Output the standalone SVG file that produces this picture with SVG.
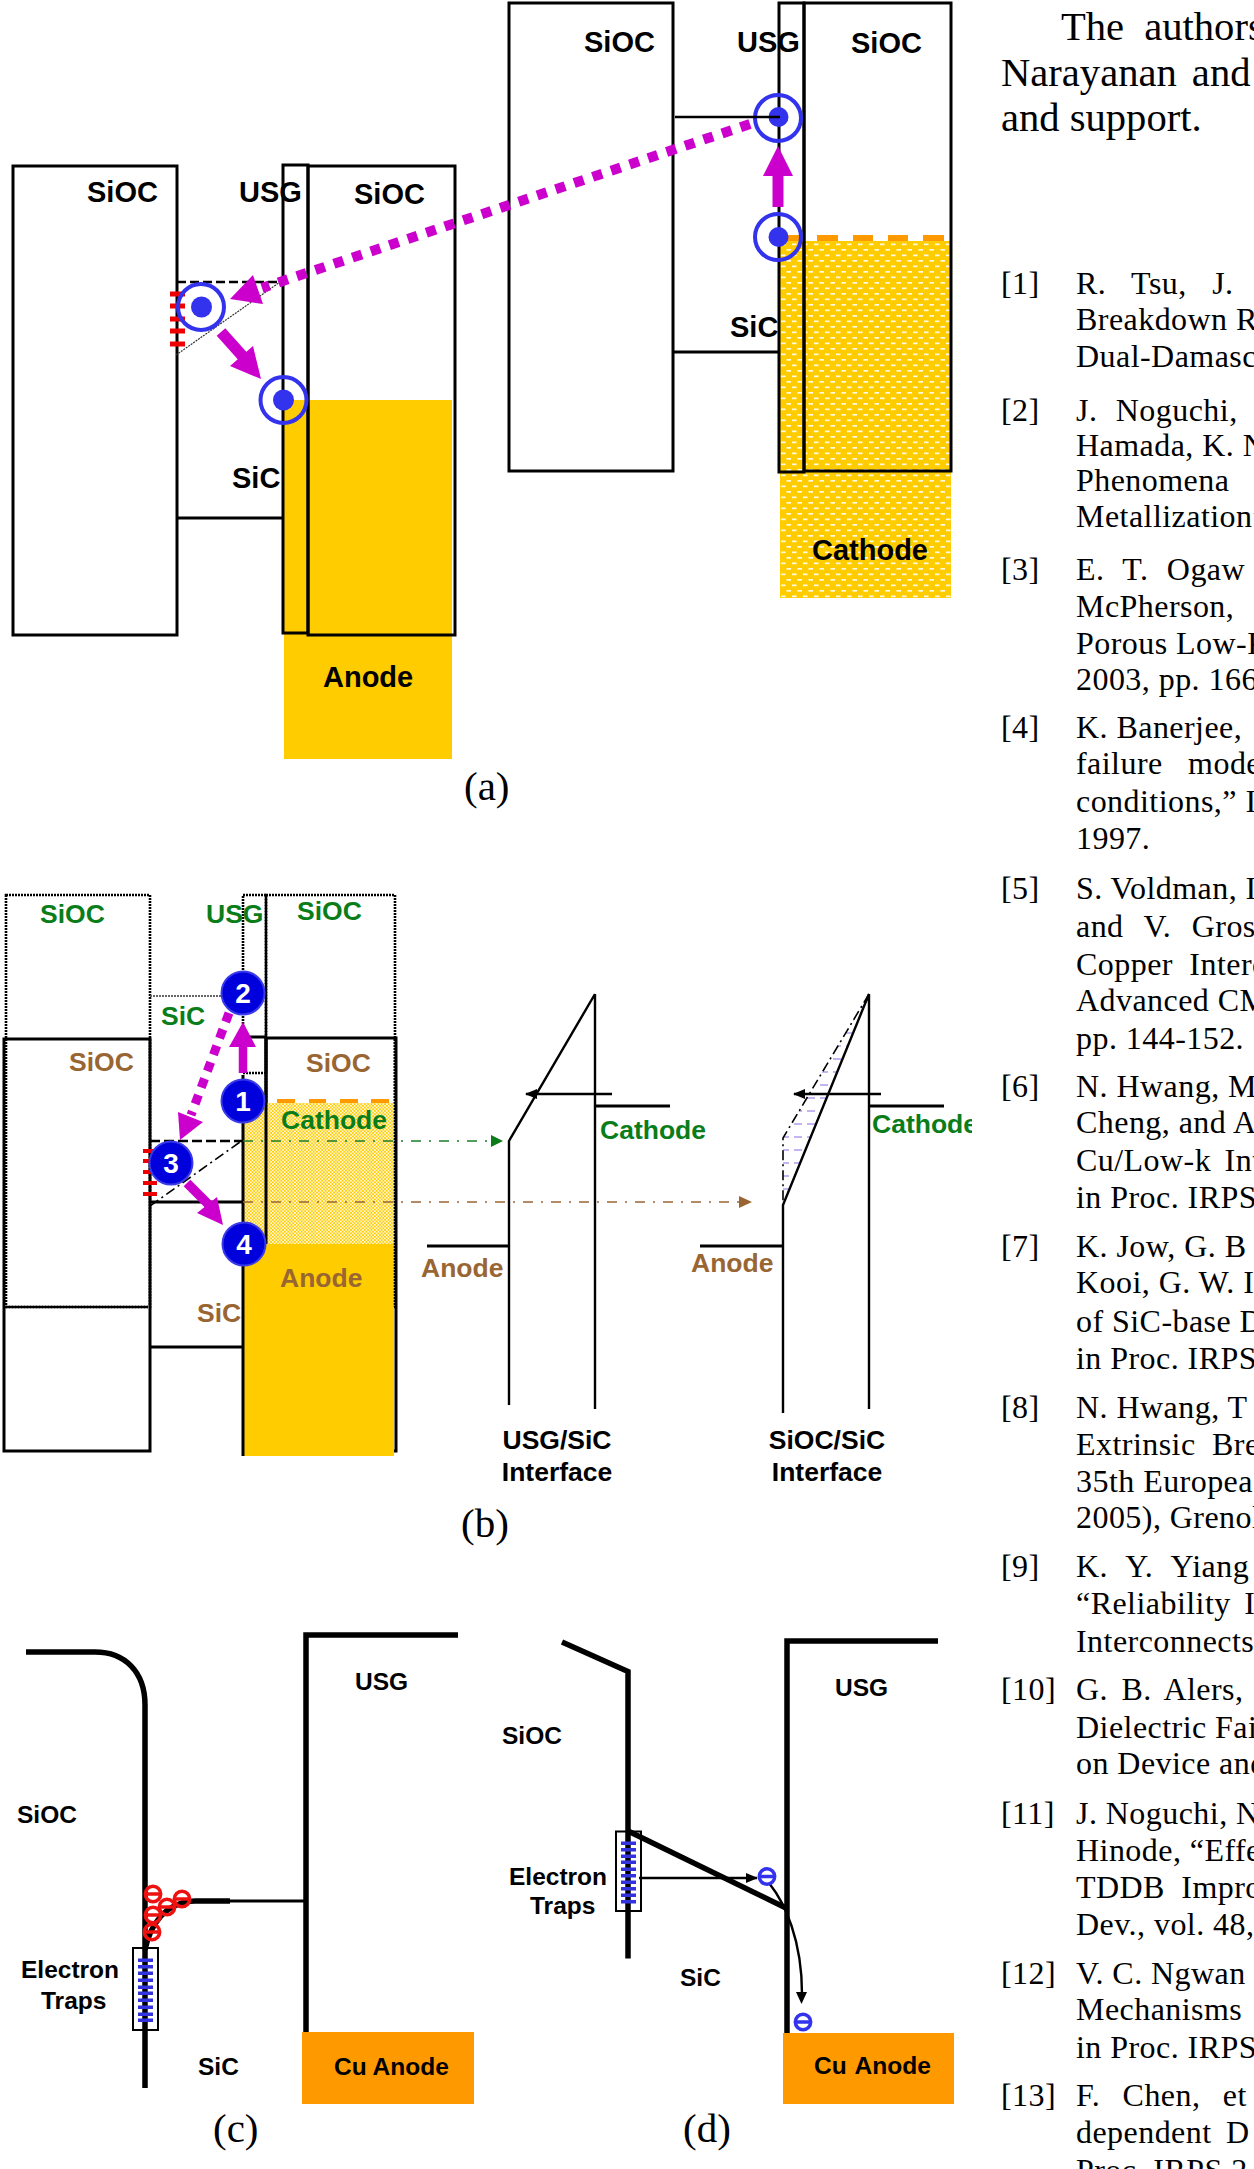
<svg xmlns="http://www.w3.org/2000/svg" width="1254" height="2169" viewBox="0 0 1254 2169">
<style>
text{font-family:"Liberation Sans",Arial,sans-serif;font-weight:bold;fill:#000}
.s29{font-size:29px}.s26{font-size:26.5px}.s24{font-size:24.5px}
.g{fill:#0a7d1a}.br{fill:#996633}.wh{fill:#fff;text-anchor:middle;font-size:28px}
.ser{font-family:"Liberation Serif","Times New Roman",serif;font-weight:normal}
.cap{font-size:41px;text-anchor:start}.ref{font-size:32px;letter-spacing:.45px}.intro{font-size:40.6px}
.box{fill:none;stroke:#000;stroke-width:3}
.ln2{fill:none;stroke:#000;stroke-width:2.4}
.ln3{fill:none;stroke:#000;stroke-width:3}
.thick{fill:none;stroke:#000;stroke-width:5.5}
.dot{fill:none;stroke:#000;stroke-width:2.6;stroke-dasharray:2 1}
.ring{fill:none;stroke:#3333ee;stroke-width:4}
.core{fill:#3333ee}
.num{fill:#0000dd;stroke:#3a3ae8;stroke-width:2}
.mag{fill:#cc00cc}
.magd{fill:none;stroke:#cc00cc}
.red{fill:#ee0000}.blue{fill:#3333dd}.or{fill:#ff9900}.gold{fill:#ffcc00}
.trap{fill:none;stroke:#000;stroke-width:2}
.em{fill:none;stroke:#ee1111;stroke-width:3.5}
.eb{fill:none;stroke:#3333ee;stroke-width:3.5}
</style>
<defs>
<pattern id="brick" width="11" height="11" patternUnits="userSpaceOnUse"><rect width="11" height="11" fill="#ffcc00"/><rect x="0" y="1.5" width="4.5" height="1.7" fill="#fff" opacity=".9"/><rect x="5.500" y="7" width="4.5" height="1.7" fill="#fff" opacity=".9"/></pattern>
<pattern id="chk" width="3.4" height="3.4" patternUnits="userSpaceOnUse"><rect width="3.4" height="3.4" fill="#ffcc00"/><rect width="1.7" height="1.7" fill="#fff" opacity=".85"/><rect x="1.7" y="1.7" width="1.7" height="1.7" fill="#fff" opacity=".85"/></pattern>
<pattern id="lav" width="13" height="13" patternUnits="userSpaceOnUse"><rect x="1" y="5" width="8" height="2" fill="#c4b4f0"/></pattern>
<marker id="ak" markerWidth="12" markerHeight="12" refX="11" refY="5" orient="auto" markerUnits="userSpaceOnUse"><path d="M0 0L12 5L0 10z" fill="#000"/></marker>
<clipPath id="clipb"><rect x="0" y="880" width="972" height="700"/></clipPath>
</defs>

<g id="panel-a">
<g id="a-anode"><rect class="gold" x="284" y="400" width="168" height="359"/><text class="s29" x="323" y="687">Anode</text></g>
<g id="a-siocl"><rect class="box" x="13" y="166" width="164" height="469"/><text class="s29" x="87" y="202">SiOC</text></g>
<g id="a-usg"><rect class="box" x="283" y="165" width="25" height="468"/><text class="s29" x="239" y="202">USG</text></g>
<g id="a-siocr"><rect class="box" x="308" y="166" width="147" height="469"/><text class="s29" x="354" y="204">SiOC</text></g>
<path class="ln3" d="M176 518H283"/><text class="s29" x="232" y="488">SiC</text>
<path d="M177 282H283" fill="none" stroke="#000" stroke-width="2.4" stroke-dasharray="9 4"/>
<path d="M176 355L280 282" fill="none" stroke="#333" stroke-width="1.2" stroke-dasharray="2 1"/>
<g class="red"><rect x="170" y="291.500" width="15" height="5"/><rect x="170" y="303.500" width="15" height="5"/><rect x="170" y="316.500" width="15" height="5"/><rect x="170" y="328.500" width="15" height="5"/><rect x="170" y="341.500" width="15" height="5"/></g>

<g id="a-cathode"><rect fill="url(#brick)" x="780" y="241" width="171" height="357"/><text class="s29" x="812" y="560">Cathode</text></g>
<g id="a2-siocl"><rect class="box" x="509" y="3" width="164" height="468"/><text class="s29" x="584" y="52">SiOC</text></g>
<g id="a2-usg"><rect class="box" x="779" y="3" width="25" height="469"/><text class="s29" x="737" y="52">USG</text></g>
<g id="a2-siocr"><rect class="box" x="804" y="3" width="147" height="468"/><text class="s29" x="851" y="53">SiOC</text></g>
<path class="ln3" d="M673 352H780"/><text class="s29" x="730" y="337">SiC</text>
<g class="or"><rect x="787" y="235" width="14" height="6"/><rect x="817" y="235" width="21" height="6"/><rect x="853" y="235" width="20" height="6"/><rect x="888" y="235" width="20" height="6"/><rect x="923" y="235" width="21" height="6"/></g>
<g id="a-connectors">
<path class="magd" stroke-width="10" stroke-dasharray="10 9.500" d="M750 124L262 288"/>
<polygon class="mag" points="230,299 253,275 263,304"/>
<path class="magd" stroke-width="11.500" d="M221 332L246 360"/>
<polygon class="mag" points="261,379 230,366 253,346"/>
<path class="magd" stroke-width="11" d="M778 207V175"/>
<polygon class="mag" points="778,146 793,176 763,176"/>
</g>
<g id="a-e1"><circle class="ring" cx="201" cy="307" r="23"/><circle class="core" cx="201.500" cy="307" r="10.500"/></g>
<g id="a-e2"><circle class="ring" cx="283.500" cy="400" r="23"/><circle class="core" cx="283.500" cy="400" r="10.500"/></g>
<g id="a-e3"><circle class="ring" cx="778" cy="118" r="23"/><circle class="core" cx="778.500" cy="117" r="10"/></g>
<g id="a-e4"><circle class="ring" cx="778" cy="237" r="23"/><circle class="core" cx="778.500" cy="237" r="10"/></g>
<path class="ln2" d="M675 117H780"/>
<text class="ser cap" x="464" y="800">(a)</text>
</g>

<g id="panel-b">
<g id="b-dot"><rect class="dot" x="6" y="895" width="144" height="412"/><rect class="dot" x="243" y="895" width="23" height="178"/><rect class="dot" x="266" y="895" width="129" height="412"/><path d="M150 996H222" fill="none" stroke="#666" stroke-width="2" stroke-dasharray="2 1"/></g>
<g id="b-sl"><rect class="box" x="4" y="1039" width="146" height="412"/></g>
<g id="b-sr"><rect class="box" x="266" y="1038" width="130" height="413"/></g>
<rect fill="url(#chk)" x="244" y="1103" width="150" height="141"/>
<rect class="gold" x="244" y="1244" width="150" height="212"/>
<path class="ln3" d="M243 1075V1456M266 1037V1244M250 1037H266"/>
<path class="ln3" d="M150 1202H243M150 1347H243"/>
<path class="dot" d="M6 1307H148M395 1039V1307"/>
<g class="or"><rect x="277" y="1099" width="18" height="4"/><rect x="309" y="1099" width="17" height="4"/><rect x="340" y="1099" width="18" height="4"/><rect x="371" y="1099" width="18" height="4"/></g>
<path d="M150 1141H243" fill="none" stroke="#000" stroke-width="2.600" stroke-dasharray="10 4"/>
<path d="M150 1206L240 1142" fill="none" stroke="#000" stroke-width="1.600" stroke-dasharray="10 4 2 4"/>
<g class="red"><rect x="143" y="1149" width="14" height="4"/><rect x="143" y="1159" width="14" height="4"/><rect x="143" y="1170" width="14" height="4"/><rect x="143" y="1181" width="14" height="4"/><rect x="143" y="1192" width="14" height="4"/></g>
<g id="b-labels">
<text class="s26 g" x="40" y="923">SiOC</text><text class="s26 g" x="206" y="923">USG</text><text class="s26 g" x="297" y="920">SiOC</text><text class="s26 g" x="161" y="1025">SiC</text>
<text class="s26 br" x="69" y="1071">SiOC</text><text class="s26 br" x="306" y="1072">SiOC</text>
<text class="s26 g" x="281" y="1129">Cathode</text><text class="s26 br" x="280" y="1287">Anode</text><text class="s26 br" x="197" y="1322">SiC</text>
</g>
<g id="b-connectors">
<path d="M243 1141H491" fill="none" stroke="#1b7d2a" stroke-width="1.400" stroke-dasharray="10 8 2 8"/>
<polygon points="503,1141 491,1135 491,1147" fill="#0a7d1a"/>
<path d="M243 1202H739" fill="none" stroke="#996633" stroke-width="1.600" stroke-dasharray="10 8 2 8"/>
<polygon points="752,1202 739,1196 739,1208" fill="#996633"/>
<path class="magd" stroke-width="9" stroke-dasharray="9.500 8" d="M229 1013L191 1115"/>
<polygon class="mag" points="180,1140 178,1112 203,1122"/>
<path class="magd" stroke-width="9.500" d="M187 1183L209 1205"/>
<polygon class="mag" points="223,1225 197,1213 217,1197"/>
<path class="magd" stroke-width="8.500" d="M243 1073V1047"/>
<polygon class="mag" points="243,1022 256,1047 229,1047"/>
</g>
<g id="n2"><circle class="num" cx="243" cy="993" r="21.500"/><text class="wh" x="243" y="1003">2</text></g>
<g id="n1"><circle class="num" cx="243" cy="1101" r="21.500"/><text class="wh" x="243" y="1111">1</text></g>
<g id="n3"><circle class="num" cx="171" cy="1163" r="21.500"/><text class="wh" x="171" y="1173">3</text></g>
<g id="n4"><circle class="num" cx="244" cy="1244" r="21.500"/><text class="wh" x="244" y="1254">4</text></g>

<g id="b-usgsic">
<path class="ln2" d="M509 1405V1141L595 994M595 994V1409"/>
<path class="ln3" d="M595 1106H670M427 1246H509"/>
<path d="M612 1094H526" fill="none" stroke="#000" stroke-width="2.600" marker-end="url(#ak)"/>
<text class="s26 g" x="600" y="1139">Cathode</text><text class="s26 br" x="421" y="1277">Anode</text>
<text class="s26" x="557" y="1449" text-anchor="middle">USG/SiC</text><text class="s26" x="557" y="1481" text-anchor="middle">Interface</text>
</g>
<g id="b-siocsic">
<polygon fill="url(#lav)" points="869,994 783,1138 783,1205"/>
<path class="ln2" d="M783 1413V1205L869 994M869 994V1409"/>
<path d="M869 994L783 1138V1205" fill="none" stroke="#000" stroke-width="1.600" stroke-dasharray="10 4 2 4"/>
<path class="ln3" d="M869 1106H944M700 1246H783"/>
<path d="M881 1094H794" fill="none" stroke="#000" stroke-width="2.600" marker-end="url(#ak)"/>
<g clip-path="url(#clipb)"><text class="s26 g" x="872" y="1133">Cathode</text></g>
<text class="s26 br" x="691" y="1272">Anode</text>
<text class="s26" x="827" y="1449" text-anchor="middle">SiOC/SiC</text><text class="s26" x="827" y="1481" text-anchor="middle">Interface</text>
</g>
<text class="ser cap" x="461" y="1537">(b)</text>
</g>

<g id="panel-c">
<path class="thick" d="M26 1652H95C125 1652 145 1672 145 1705V2088"/>
<path class="thick" d="M145 1950C150 1925 165 1902 195 1901H230"/>
<path class="ln3" d="M230 1901H306"/>
<path class="thick" d="M458 1635H306V2032"/>
<rect class="or" x="302" y="2032" width="172" height="72"/>
<g id="c-trap"><rect class="trap" x="133" y="1948" width="25" height="82"/>
<g class="blue"><rect x="138" y="1958.500" width="15" height="3.500"/><rect x="138" y="1965" width="15" height="3.500"/><rect x="138" y="1971.500" width="15" height="3.500"/><rect x="138" y="1978.500" width="15" height="3.500"/><rect x="138" y="1985.500" width="15" height="3.500"/><rect x="138" y="1991.500" width="15" height="3.500"/><rect x="138" y="1998.500" width="15" height="3.500"/><rect x="138" y="2005.500" width="15" height="3.500"/><rect x="138" y="2012.500" width="15" height="3.500"/><rect x="138" y="2018.500" width="15" height="3.500"/></g></g>
<g id="c-electrons" class="em"><path d="M146 1894H160M160 1907H174M175 1899H189M146 1915H160M145 1932H159"/><circle cx="153" cy="1894" r="7.700"/><circle cx="167" cy="1907" r="7.700"/><circle cx="182" cy="1899" r="7.700"/><circle cx="153" cy="1915" r="7.700"/><circle cx="152" cy="1932" r="7.700"/></g>
<text class="s24" x="355" y="1690">USG</text><text class="s24" x="17" y="1823">SiOC</text>
<text class="s24" x="21" y="1978">Electron</text><text class="s24" x="41" y="2009">Traps</text>
<text class="s24" x="198" y="2075">SiC</text><text class="s24" x="334" y="2075">Cu Anode</text>
<text class="ser cap" x="213" y="2142">(c)</text>
</g>

<g id="panel-d">
<path class="thick" d="M562 1642L628 1671.500V1958.500"/>
<path class="thick" d="M628 1831L786 1908"/>
<path class="thick" d="M938 1641H787V2034"/>
<rect class="or" x="783" y="2033" width="171" height="71"/>
<g id="d-trap"><rect class="trap" x="616" y="1831.500" width="25" height="79.500"/>
<g class="blue"><rect x="621" y="1841.500" width="15" height="3.500"/><rect x="621" y="1848" width="15" height="3.500"/><rect x="621" y="1854.500" width="15" height="3.500"/><rect x="621" y="1860.500" width="15" height="3.500"/><rect x="621" y="1867.500" width="15" height="3.500"/><rect x="621" y="1874" width="15" height="3.500"/><rect x="621" y="1880.500" width="15" height="3.500"/><rect x="621" y="1887" width="15" height="3.500"/><rect x="621" y="1893.500" width="15" height="3.500"/><rect x="621" y="1900" width="15" height="3.500"/></g></g>
<path d="M639 1878H757" fill="none" stroke="#000" stroke-width="2.400" marker-end="url(#ak)"/>
<path d="M769 1883C785 1903 802 1940 802 1994" fill="none" stroke="#000" stroke-width="2.400"/>
<polygon points="801.500,2004 796,1992 807,1992" fill="#000"/>
<g id="d-electrons" class="eb"><path d="M760 1876.500H774M796 2022H810"/><circle cx="767" cy="1876.500" r="7.700"/><circle cx="803" cy="2022" r="7.700"/></g>
<text class="s24" x="835" y="1696">USG</text><text class="s24" x="502" y="1744">SiOC</text>
<text class="s24" x="509" y="1885">Electron</text><text class="s24" x="530" y="1914">Traps</text>
<text class="s24" x="680" y="1986">SiC</text><text class="s24" x="814" y="2074" word-spacing="2">Cu Anode</text>
<text class="ser cap" x="683" y="2142">(d)</text>
</g>

<g id="text-column" class="ser">
<text class="ser intro" x="1061" y="40" word-spacing="10">The authors</text>
<text class="ser intro" x="1001" y="86" word-spacing="5">Narayanan and</text>
<text class="ser intro" x="1001" y="131">and support.</text>
<g class="refs">
<text class="ser ref" x="1001" y="294">[1]</text><text class="ser ref" x="1076" y="294" word-spacing="17">R. Tsu, J.</text>
<text class="ser ref" x="1076" y="330">Breakdown R</text><text class="ser ref" x="1076" y="367">Dual-Damasc</text>
<text class="ser ref" x="1001" y="421">[2]</text><text class="ser ref" x="1076" y="421" word-spacing="10">J. Noguchi,</text>
<text class="ser ref" x="1076" y="456">Hamada, K. N</text><text class="ser ref" x="1076" y="491" word-spacing="10">Phenomena</text><text class="ser ref" x="1076" y="527">Metallization”</text>
<text class="ser ref" x="1001" y="580">[3]</text><text class="ser ref" x="1076" y="580" word-spacing="10">E. T. Ogaw</text>
<text class="ser ref" x="1076" y="617">McPherson,</text><text class="ser ref" x="1076" y="654">Porous Low-K</text><text class="ser ref" x="1076" y="690">2003, pp. 166</text>
<text class="ser ref" x="1001" y="738">[4]</text><text class="ser ref" x="1076" y="738">K. Banerjee,</text>
<text class="ser ref" x="1076" y="774" word-spacing="17">failure mode</text><text class="ser ref" x="1076" y="812">conditions,” I</text><text class="ser ref" x="1076" y="849">1997.</text>
<text class="ser ref" x="1001" y="899">[5]</text><text class="ser ref" x="1076" y="899">S. Voldman, I</text>
<text class="ser ref" x="1076" y="937" word-spacing="12">and V. Gros</text><text class="ser ref" x="1076" y="975" word-spacing="8">Copper Interc</text><text class="ser ref" x="1076" y="1011">Advanced CM</text><text class="ser ref" x="1076" y="1049">pp. 144-152.</text>
<text class="ser ref" x="1001" y="1097">[6]</text><text class="ser ref" x="1076" y="1097">N. Hwang, M</text>
<text class="ser ref" x="1076" y="1133">Cheng, and A</text><text class="ser ref" x="1076" y="1171" word-spacing="5">Cu/Low-k Int</text><text class="ser ref" x="1076" y="1208">in Proc. IRPS</text>
<text class="ser ref" x="1001" y="1257">[7]</text><text class="ser ref" x="1076" y="1257">K. Jow, G. B</text>
<text class="ser ref" x="1076" y="1293">Kooi, G. W. I</text><text class="ser ref" x="1076" y="1332">of SiC-base D</text><text class="ser ref" x="1076" y="1369">in Proc. IRPS</text>
<text class="ser ref" x="1001" y="1418">[8]</text><text class="ser ref" x="1076" y="1418">N. Hwang, T</text>
<text class="ser ref" x="1076" y="1455" word-spacing="8">Extrinsic Bre</text><text class="ser ref" x="1076" y="1492">35th Europea</text><text class="ser ref" x="1076" y="1528">2005), Grenol</text>
<text class="ser ref" x="1001" y="1577">[9]</text><text class="ser ref" x="1076" y="1577" word-spacing="10">K. Y. Yiang</text>
<text class="ser ref" x="1076" y="1614" word-spacing="5">“Reliability I</text><text class="ser ref" x="1076" y="1652">Interconnects</text>
<text class="ser ref" x="1001" y="1700">[10]</text><text class="ser ref" x="1076" y="1700" word-spacing="5">G. B. Alers, I</text>
<text class="ser ref" x="1076" y="1738">Dielectric Fai</text><text class="ser ref" x="1076" y="1774">on Device and</text>
<text class="ser ref" x="1001" y="1824">[11]</text><text class="ser ref" x="1076" y="1824">J. Noguchi, N</text>
<text class="ser ref" x="1076" y="1861">Hinode, “Effe</text><text class="ser ref" x="1076" y="1898" word-spacing="8">TDDB Impro</text><text class="ser ref" x="1076" y="1935">Dev., vol. 48,</text>
<text class="ser ref" x="1001" y="1984">[12]</text><text class="ser ref" x="1076" y="1984">V. C. Ngwan</text>
<text class="ser ref" x="1076" y="2020">Mechanisms</text><text class="ser ref" x="1076" y="2058">in Proc. IRPS</text>
<text class="ser ref" x="1001" y="2106">[13]</text><text class="ser ref" x="1076" y="2106" word-spacing="14">F. Chen, et</text>
<text class="ser ref" x="1076" y="2143" word-spacing="6">dependent D</text><text class="ser ref" x="1076" y="2181">Proc. IRPS 2</text>
</g>
</g>
</svg>
